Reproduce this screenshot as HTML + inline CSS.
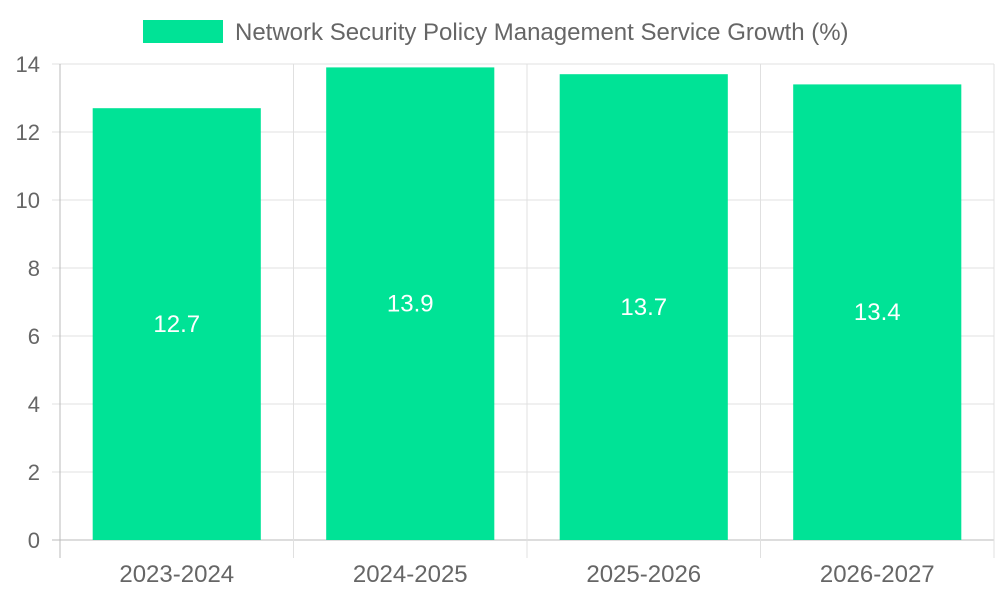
<!DOCTYPE html>
<html><head><meta charset="utf-8"><style>
html,body{margin:0;padding:0;background:#fff;}
svg{display:block;font-family:"Liberation Sans",Arial,sans-serif;}
</style></head><body>
<svg id="chart" width="1000" height="600" viewBox="0 0 1000 600">
<g id="legend">
<rect x="143" y="20" width="80" height="23" fill="#00e396"/>
<text x="235" y="40" font-size="24" fill="#666">Network Security Policy Management Service Growth (%)</text>
</g>
<g id="grid"></g>
<g id="bars"></g>
<g id="labels"></g>
</svg>
<script>
const categories = ["2023-2024","2024-2025","2025-2026","2026-2027"];
const values = [12.7,13.9,13.7,13.4];
const yTicks = [0,2,4,6,8,10,12,14];

const NS="http://www.w3.org/2000/svg";
const plotLeft=60,plotRight=994,plotTop=64,plotBottom=540,yMax=14;
const bw=(plotRight-plotLeft)/categories.length;
const yScale=v=>plotBottom-(v/yMax)*(plotBottom-plotTop);
const xScale=i=>plotLeft+i*bw;
function mk(tag,attrs,parent,text){const e=document.createElementNS(NS,tag);for(const k in attrs)e.setAttribute(k,attrs[k]);if(text!==undefined)e.textContent=text;parent.appendChild(e);return e;}
const grid=document.getElementById('grid'),bars=document.getElementById('bars'),labels=document.getElementById('labels');
yTicks.forEach(t=>{
  const l=mk('line',{x1:plotLeft-8,x2:plotRight,y1:yScale(t),y2:yScale(t),stroke:t===0?'#bbb':'#e0e0e0','stroke-width':1},grid);
  
  
  const tx=mk('text',{x:40,y:yScale(t)+8,'text-anchor':'end','font-size':22,fill:'#666'},grid,String(t));
  
  
});
for(let i=0;i<=categories.length;i++){
  const l=mk('line',{x1:xScale(i),x2:xScale(i),y1:plotTop,y2:plotBottom+18,stroke:i===0?'#bbb':'#e0e0e0','stroke-width':1},grid);
  
  
}
categories.forEach((c,i)=>{
  const cx=xScale(i)+bw/2,w=bw*0.72;
  const r=mk('rect',{x:cx-w/2,y:yScale(values[i]),width:w,height:plotBottom-yScale(values[i]),fill:'#00e396'},bars);
  
  
  const v=mk('text',{x:cx,y:(yScale(values[i])+plotBottom)/2+8,'text-anchor':'middle','font-size':24,fill:'#fff'},labels,String(values[i]));
  
  
  const t=mk('text',{x:cx,y:582,'text-anchor':'middle','font-size':24,fill:'#666'},grid,c);
  
  
});
</script>
</body></html>
